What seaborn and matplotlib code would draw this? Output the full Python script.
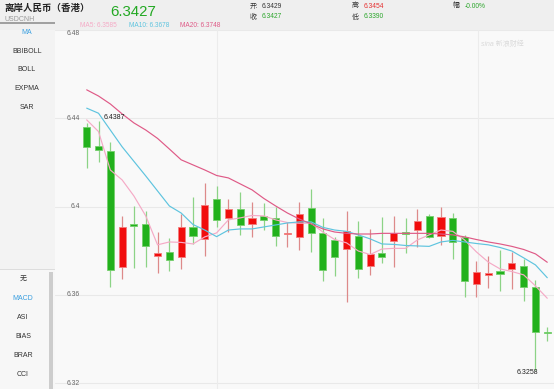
import numpy as np
import pandas as pd
import seaborn as sns
import matplotlib.pyplot as plt
import matplotlib.transforms as mtransforms
from matplotlib.patches import Rectangle

# daily candles, USDCNH (oldest -> newest)
opens = [6.4360, 6.4275, 6.4251, 6.3727, 6.3922, 6.3922, 6.3775, 6.3796, 6.3773, 6.3908,
         6.3852, 6.4035, 6.3950, 6.3991, 6.3922, 6.3957, 6.3947, 6.3876, 6.3864, 6.3994,
         6.3879, 6.3849, 6.3807, 6.3869, 6.3731, 6.3789, 6.3845, 6.3885, 6.3894, 6.3959,
         6.3867, 6.3947, 6.3861, 6.3648, 6.3689, 6.3707, 6.3719, 6.3730, 6.3636, 6.3429]
closes = [6.4272, 6.4255, 6.3713, 6.3907, 6.3911, 6.3822, 6.3790, 6.3757, 6.3909, 6.3869,
          6.4009, 6.3940, 6.3988, 6.3917, 6.3950, 6.3938, 6.3867, 6.3881, 6.3967, 6.3879,
          6.3715, 6.3771, 6.3890, 6.3719, 6.3784, 6.3773, 6.3882, 6.3875, 6.3935, 6.3861,
          6.3955, 6.3839, 6.3663, 6.3704, 6.3701, 6.3696, 6.3744, 6.3635, 6.3434, 6.3427]
highs = [6.4381, 6.4387, 6.4292, 6.3957, 6.4003, 6.3982, 6.3884, 6.3858, 6.3966, 6.4045,
         6.4109, 6.4094, 6.4036, 6.4068, 6.4021, 6.4015, 6.4000, 6.3932, 6.4020, 6.4079,
         6.3949, 6.3863, 6.3981, 6.3935, 6.3899, 6.3955, 6.3958, 6.3950, 6.3990, 6.3966,
         6.4000, 6.3970, 6.3872, 6.3754, 6.3777, 6.3804, 6.3796, 6.3763, 6.3668, 6.3454]
lows = [6.4177, 6.4204, 6.3638, 6.3674, 6.3721, 6.3725, 6.3698, 6.3709, 6.3718, 6.3831,
        6.3777, 6.3907, 6.3887, 6.3873, 6.3864, 6.3894, 6.3822, 6.3816, 6.3804, 6.3796,
        6.3665, 6.3686, 6.3570, 6.3676, 6.3691, 6.3744, 6.3728, 6.3789, 6.3819, 6.3857,
        6.3827, 6.3763, 6.3592, 6.3590, 6.3633, 6.3619, 6.3626, 6.3574, 6.3258, 6.3390]

# moving averages as shown on the chart
ma5 = [6.4393, 6.4340, 6.4166, 6.4121, 6.4048, 6.3958, 6.3827, 6.3840, 6.3838, 6.3831,
       6.3863, 6.3881, 6.3940, 6.3949, 6.3960, 6.3958, 6.3940, 6.3928, 6.3925, 6.3925,
       6.3885, 6.3851, 6.3836, 6.3799, 6.3783, 6.3808, 6.3811, 6.3811, 6.3849, 6.3872,
       6.3894, 6.3888, 6.3849, 6.3795, 6.3749, 6.3718, 6.3706, 6.3691, 6.3641, 6.3585]
ma10 = [6.4446, 6.4423, 6.4347, 6.4271, 6.4205, 6.4139, 6.4071, 6.4003, 6.3971, 6.3919,
        6.3894, 6.3864, 6.3894, 6.3899, 6.3899, 6.3908, 6.3917, 6.3926, 6.3931, 6.3931,
        6.3906, 6.3894, 6.3888, 6.3872, 6.3854, 6.3831, 6.3829, 6.3824, 6.3822, 6.3820,
        6.3840, 6.3847, 6.3840, 6.3833, 6.3827, 6.3815, 6.3799, 6.3768, 6.3736, 6.3678]
ma20 = [6.4529, 6.4501, 6.4465, 6.4420, 6.4379, 6.4347, 6.4309, 6.4261, 6.4212, 6.4189,
        6.4166, 6.4141, 6.4130, 6.4103, 6.4076, 6.4037, 6.4003, 6.3971, 6.3944, 6.3922,
        6.3899, 6.3885, 6.3879, 6.3876, 6.3876, 6.3879, 6.3879, 6.3879, 6.3879, 6.3879,
        6.3876, 6.3872, 6.3863, 6.3851, 6.3840, 6.3831, 6.3820, 6.3806, 6.3786, 6.3748]

ma_names = ["MA5", "MA10", "MA20"]
ma_last = ["6.3585", "6.3678", "6.3748"]
ma_colors = {"MA5": "#f5aac6", "MA10": "#5ec4df", "MA20": "#df5a87"}

y_ticks = [6.32, 6.36, 6.40, 6.44, 6.48]
y_tick_labels = ["6.32", "6.36", "6.4", "6.44", "6.48"]
top_menu = ["MA", "BBIBOLL", "BOLL", "EXPMA", "SAR"]
bottom_menu = ["无", "MACD", "ASI", "BIAS", "BRAR", "CCI"]

sns.set_theme(style="white")
plt.rcParams['font.family'] = ['Liberation Sans', 'Noto Sans CJK SC', 'DejaVu Sans']

W, H = 554, 389
fig = plt.figure(figsize=(W / 100, H / 100), dpi=100)
fig.patch.set_facecolor('#f9f9f9')


def fx(x):
    return x / W


def fy(y):
    return 1 - y / H


def box(x0, y0, x1, y1, color):
    fig.add_artist(Rectangle((fx(x0), fy(y1)), fx(x1) - fx(x0), fy(y0) - fy(y1),
                             transform=fig.transFigure, color=color, lw=0, zorder=0))


# header band, sidebar, tab underline, scrollbar
box(0, 0, W, 30, '#efefef')
box(0, 30, 55, H, '#f3f3f3')
box(0, 269, 55, H, '#f7f7f7')
box(0, 268.5, 55, 269.5, '#dddddd')
box(49, 272, 53, H, '#cdcdcd')
box(0, 22, 55, 24, '#a0a0a0')
box(54.5, 30, 55.5, H, '#e4e4e4')

# main chart
ax = fig.add_axes([fx(55), 0, fx(554) - fx(55), fy(30)])
ax.set_facecolor('#f9f9f9')
idx = np.arange(len(opens))
ax.set_xlim(-2.684, 39.57)
ax.set_ylim(6.3174, 6.4800)
for s in ax.spines.values():
    s.set_visible(False)
ax.set_xticks([])
ax.set_yticks([])

for t in y_ticks:
    ax.axhline(t, color='#e9e9e9', lw=0.8, zorder=0)
for v in [11.03, 33.13]:
    ax.axvline(v, color='#ececec', lw=0.8, zorder=0)

o = np.array(opens)
c = np.array(closes)
up = c >= o
body_col = np.where(up, '#f10d0d', '#22b11c')
edge_col = np.where(up, '#f27d7d', '#74cf6c')
wick_col = np.where(up, '#dd8a8a', '#8cd386')
bottoms = np.minimum(o, c)
heights = np.maximum(np.abs(c - o), 0.0006)

ax.vlines(idx, lows, highs, colors=wick_col, linewidth=0.9, zorder=1)
ax.bar(idx, heights, bottom=bottoms, width=0.6, color=body_col,
       edgecolor=edge_col, linewidth=0.6, zorder=2)

ma_df = pd.DataFrame({
    "idx": np.tile(idx, 3),
    "value": ma5 + ma10 + ma20,
    "series": np.repeat(ma_names, len(idx)),
})
sns.lineplot(data=ma_df, x="idx", y="value", hue="series", palette=ma_colors,
             legend=False, linewidth=0.85, ax=ax, zorder=3)
ax.set_xlabel("")
ax.set_ylabel("")

# y labels drawn inside the plot
trans = mtransforms.blended_transform_factory(ax.transAxes, ax.transData)
for t, lab in zip(y_ticks, y_tick_labels):
    ax.text(25 / 499, t, lab, transform=trans, ha='right',
            va='top' if t == 6.48 else 'center', fontsize=4.9, color='#666666')

ih = int(np.argmax(highs))
il = int(np.argmin(lows))
ax.annotate(f"{highs[ih]:.4f}", xy=(ih, highs[ih]), xytext=(5.5, 4),
            textcoords='offset pixels', ha='left', va='center', fontsize=5, color='#222222')
ax.annotate(f"{lows[il]:.4f}", xy=(il, lows[il]), xytext=(3, -2),
            textcoords='offset pixels', ha='right', va='center', fontsize=5, color='#222222')

# header texts
fig.text(fx(4.5), fy(8.5), "离岸人民币（香港）", fontsize=6.8, fontweight='bold',
         color='#222222', ha='left', va='center')
fig.text(fx(4.5), fy(19.5), "USDCNH", fontsize=5, color='#999999', ha='left', va='center')
fig.text(fx(110), fy(12.5), "6.3427", fontsize=10.8, color='#22a822', ha='left', va='center')

green, red = '#2aa52a', '#e53030'
quotes = [("开:", "6.3429", '#333333', 250, 6),
          ("收:", "6.3427", green, 250, 17),
          ("高:", "6.3454", red, 352, 6),
          ("低:", "6.3390", green, 352, 17),
          ("幅:", "-0.00%", green, 453, 6)]
for lab, val, col, x, y in quotes:
    fig.text(fx(x), fy(y), lab, fontsize=4.8, color='#333333', ha='left', va='center')
    fig.text(fx(x + 12), fy(y), val, fontsize=4.8, color=col, ha='left', va='center')

for name, val, x in zip(ma_names, ma_last, [80, 129, 180]):
    fig.text(fx(x), fy(25.5), f"{name}: {val}", fontsize=4.7, color=ma_colors[name],
             ha='left', va='center')

fig.text(fx(481), fy(44), "sina 新浪财经", fontsize=5, color='#dadada',
         style='italic', ha='left', va='center')

# indicator menus
for lab, y in zip(top_menu, [32.7, 51.7, 69.5, 88.5, 107.3]):
    fig.text(fx(27), fy(y), lab, fontsize=5, ha='center', va='center',
             color='#3a9fe0' if lab == "MA" else '#333333')
for lab, y in zip(bottom_menu, [279, 298.5, 317.5, 336.5, 355.5, 374.3]):
    fig.text(fx(23), fy(y), lab, fontsize=5, ha='center', va='center',
             color='#3a9fe0' if lab == "MACD" else '#333333')

fig.savefig("out.png", dpi=100, facecolor=fig.get_facecolor())
